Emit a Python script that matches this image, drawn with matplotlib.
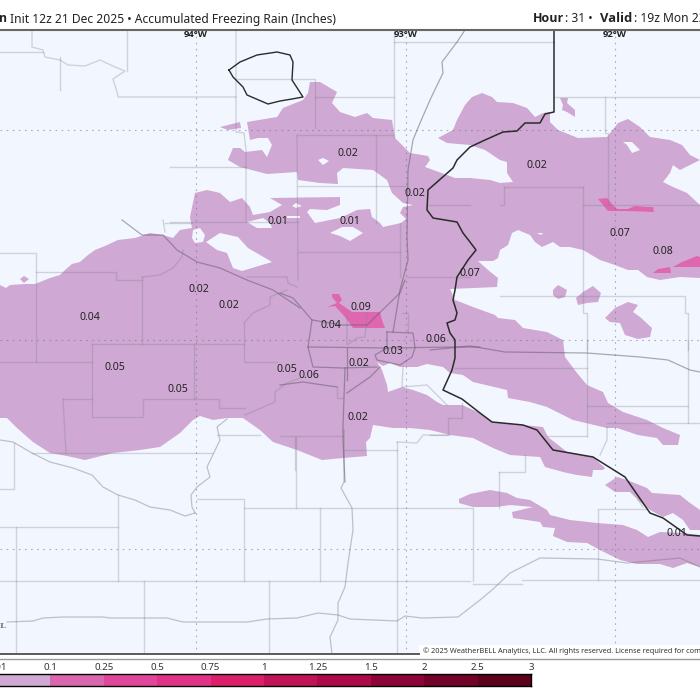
import numpy as np
import matplotlib
matplotlib.use("Agg")
import matplotlib.pyplot as plt

plt.rcParams['font.family'] = ['Noto Sans', 'DejaVu Sans']

# map positions are screen-like x/y, y going down
main_area = [
    (0,285),(6,288),(10,285),(25,284),(35,284),(40,282),(50,278),(60,275),(65,270),(72,264),(80,262),(88,255),
    (95,250),(105,246),(118,240),(135,238),(150,233),(163,235),(173,238),(180,230),(192,228),(190,217),(195,193),
    (207,190),(220,193),(230,202),(242,198),(250,207),(253,215),(270,212),(282,205),(270,198),(340,197),(340,205),
    (327,210),(310,209),(307,212),(315,223),(340,218),(357,210),(370,209),(372,217),(380,223),(383,227),(401,223),
    (406,219),(400,213),(403,207),(413,205),(403,203),(392,193),(387,180),(373,170),(343,168),(337,173),(338,184),
    (320,183),(298,180),(297,172),(267,174),(240,167),(228,160),(233,148),(240,148),(245,152),(262,150),(267,157),
    (272,145),(268,138),(258,138),(250,140),(247,122),(277,117),(283,108),(303,100),(308,93),(310,82),(320,82),
    (337,92),(332,103),(340,112),(355,117),(367,113),(373,118),(392,120),(395,138),(410,153),(428,156),(430,160),
    (425,167),(447,175),(455,178),(470,178),(490,180),(500,183),(513,182),(507,173),(507,162),(500,160),(485,150),
    (470,145),(447,143),(438,138),(453,130),(457,120),(465,105),(472,97),(482,93),(492,97),(497,102),(513,103),
    (527,108),(535,117),(543,113),(550,112),(550,122),(558,130),(578,138),(607,137),(618,123),(628,119),(640,127),
    (650,137),(670,140),(682,145),(690,155),(700,160),(680,170),(673,165),(670,173),(663,182),(673,187),(687,193),
    (700,205),(700,278),(680,277),(660,280),(647,277),(638,270),(628,270),(615,265),(600,260),(583,250),(570,247),
    (560,247),(553,242),(542,247),(535,242),(530,235),(518,230),(512,233),(508,245),(500,250),(498,258),(493,261),
    (478,261),(488,270),(498,278),(497,287),(450,289),(455,300),(473,307),(495,315),(498,318),(515,320),(523,328),
    (547,332),(563,340),(565,357),(577,373),(587,385),(603,392),(608,403),(623,412),(647,420),(663,428),(680,435),
    (678,445),(663,445),(657,438),(638,435),(617,428),(607,428),(573,420),(547,407),(530,402),(508,398),(507,390),
    (473,382),(463,375),(450,373),(443,367),(427,364),(417,367),(400,367),(390,363),(383,366),(377,362),(382,370),
    (387,385),(388,392),(402,387),(413,390),(427,395),(437,402),(443,405),(462,405),(480,413),(493,422),(543,427),
    (548,437),(567,452),(593,457),(605,468),(603,470),(593,470),(592,477),(577,475),(563,472),(545,467),(540,457),
    (510,455),(493,448),(473,438),(450,435),(430,430),(410,428),(393,428),(373,425),(370,438),(366,442),(367,456),
    (343,458),(322,460),(297,450),(273,442),(260,430),(243,418),(227,418),(213,420),(200,416),(193,420),(180,433),
    (160,447),(140,450),(113,453),(85,460),(67,456),(50,453),(33,442),(17,428),(7,418),(0,418),
]
south_band = [
    (459,499),(470,494),(490,490),(507,493),(517,498),(530,500),(547,510),(550,515),(570,520),(597,523),(623,525),
    (637,530),(648,537),(660,532),(683,533),(700,535),(700,567),(687,563),(673,568),(660,564),(637,564),(620,560),
    (600,550),(587,543),(567,542),(553,536),(555,528),(543,527),(540,522),(513,518),(512,512),(533,507),(510,505),
    (497,507),(473,507),(459,503),
]
southeast_band = [
    (605,485),(617,477),(627,480),(647,488),(652,493),(680,495),(690,503),(700,510),(700,530),(690,530),(683,520),
    (673,513),(663,517),(650,510),(638,500),(630,492),(615,492),
]
small_areas = [
    [(553,290),(558,285),(567,290),(565,297),(558,299),(553,295)],
    [(576,298),(583,292),(593,286),(601,293),(598,302),(587,303),(578,305)],
    [(605,318),(615,308),(628,302),(638,305),(633,312),(640,317),(652,328),(650,337),(638,339),(625,335),(620,323),(610,322)],
    [(560,98),(568,98),(567,103),(575,110),(575,117),(567,112),(562,110),(563,105)],
    [(220,127),(240,122),(241,128),(228,130)],
    [(20,279),(24,276),(29,279),(24,283)],
]
holes = [
    [(192,238),(193,230),(200,228),(205,235),(203,242),(195,243)],
    [(206,242),(220,233),(238,237),(248,248),(272,262),(242,271),(233,268),(227,253),(217,250)],
    [(330,233),(342,227),(353,227),(363,233),(350,241),(340,236)],
    [(318,160),(323,158),(329,161),(323,165)],
    [(292,206),(296,203),(302,206),(296,208)],
    [(247,222),(263,218),(270,223),(272,228),(257,228)],
    [(623,142),(632,142),(640,150),(632,153),(627,145)],
    [(537,233),(543,233),(541,235)],
    [(287,216),(300,216),(300,218),(287,218)],
]
heavy_areas = [
    [(332,294),(339,294),(342,300),(339,303),(352,312),(380,312),(382,320),(385,328),(353,328),(345,317),(335,306),(327,307),(337,303),(332,297)],
    [(598,199),(607,198),(613,205),(617,209),(628,209),(635,206),(647,207),(653,207),(654,212),(627,211),(608,211),(603,205)],
    [(653,273),(658,269),(670,267),(671,273)],
    [(673,267),(682,262),(697,256),(700,257),(700,267)],
]

county_lines = [
    [(32,30),(32,47),(43,50),(45,57),(60,60),(68,65),(85,66),(100,60),(115,67),(125,71),(113,79),(117,92),(118,97),(236,97)],
    [(0,52),(43,52)],[(60,57),(60,90)],[(127,30),(127,71)],[(236,30),(236,132),(244,133),(246,150),(246,222)],
    [(236,79),(315,79),(315,128)],[(394,30),(394,137)],[(394,42),(554,42)],[(315,97),(394,97)],
    [(554,97),(700,97)],[(605,97),(605,133),(608,133),(608,205)],
    [(297,135),(376,135),(376,223)],[(376,135),(393,135)],[(297,135),(298,280)],
    [(298,186),(407,186)],[(298,252),(400,252)],[(400,223),(400,277)],[(170,222),(298,222)],
    [(170,167),(246,167)],[(407,277),(470,277)],[(428,205),(470,205)],
    [(0,253),(36,253),(36,362)],[(36,272),(116,272),(116,280),(142,280)],[(142,277),(142,344)],
    [(142,277),(160,275),(173,268),(182,257),(183,250)],[(92,344),(244,344)],[(92,344),(92,417),(143,417),(143,399),(219,399),(219,408),(245,408)],
    [(0,362),(92,362)],[(194,344),(194,399)],[(63,399),(92,399)],[(63,399),(66,453)],
    [(244,323),(244,362),(277,362)],[(245,415),(275,402),(275,392),(287,383),(300,378)],
    [(244,323),(253,313),(270,305),(270,297),(287,290)],[(163,220),(165,232)],[(165,223),(192,223)],
    [(247,277),(287,277),(288,283),(297,287)],
    [(217,435),(260,435)],[(32,453),(212,453)],[(14,443),(14,489),(0,489)],[(118,495),(118,581)],
    [(0,527),(118,527)],[(16,527),(16,654)],[(0,581),(470,581)],[(197,499),(244,499),(244,581)],
    [(244,508),(430,508),(473,508),(473,581)],[(296,437),(296,508)],[(320,508),(320,581)],
    [(397,442),(397,654)],[(144,581),(144,654)],[(269,581),(269,654)],
    [(473,584),(522,584)],[(522,580),(700,580)],[(598,510),(598,580)],[(598,509),(647,509)],
    [(430,435),(448,435),(448,418),(462,418),(462,403)],[(499,472),(499,508)],[(499,472),(525,472),(525,455)],
    [(587,340),(587,436)],[(547,436),(587,436)],[(587,406),(688,406)],[(688,340),(688,423)],[(607,423),(700,423)],
    [(455,368),(587,368)],[(607,427),(607,440),(600,455)],[(638,500),(643,507)],
    [(504,187),(583,187)],[(504,187),(504,205),(500,205)],[(583,187),(583,313),(587,313),(587,350)],[(583,205),(700,205)],
    [(500,296),(685,296),(685,313),(688,313),(688,350)],
    [(280,436),(343,436)],[(295,437),(295,470)],[(345,450),(397,450)],[(397,442),(417,443),(423,435),(450,435)],
    [(403,367),(402,387),(427,385),(447,405)],[(402,313),(408,313),(408,333)],
    [(347,315),(347,345),(357,338),(365,337),(367,313)],[(337,387),(337,398),(343,398)],
]
dark_lines = [
    [(122,220),(142,235),(163,235),(177,250),(197,262),(220,268),(247,280),(273,290),(300,308)],
    [(465,30),(457,42),(442,62),(443,73),(430,100),(420,123),(413,140),(408,170),(407,237),(408,260),(400,290),(393,332)],
    [(280,293),(293,298),(312,320),(343,325),(367,325),(400,293),(405,280)],
    [(312,320),(308,347),(313,367),(343,368),(377,367)],
    [(308,347),(387,348),(455,347),(480,347)],
    [(387,332),(413,333),(415,348),(412,357),(400,365),(377,360),(375,355),(387,348),(387,332)],
    [(345,368),(343,427),(343,440),(345,482)],
    [(347,348),(347,380)],[(347,393),(370,377),(380,367)],[(280,385),(303,382),(323,385),(337,387)],
    [(430,350),(470,346),(505,352),(587,353),(640,357),(668,360),(690,370),(700,372)],
]
light_river_lines = [
    [(0,440),(13,442),(32,453),(50,462),(73,468),(92,475),(103,487),(118,495),(135,500),(150,507),(170,510),(185,516),(195,513)],
    [(227,419),(217,427),(220,440),(207,467),(210,477),(197,487),(191,495),(192,507),(195,513)],
    [(344,430),(344,482),(341,488),(352,508),(353,530),(348,563),(345,587),(338,603),(338,620),(330,637),(332,654)],
    [(7,622),(33,621),(43,618),(63,617),(103,617),(110,618),(167,618),(183,622),(247,622),(267,619),(297,618),(318,613),
     (338,615),(350,619),(397,621),(405,616),(422,618),(458,617),(480,600),(492,590),(510,573),(540,558),(597,559),
     (627,563),(680,558),(700,567)],
]
black_loop = [(229,70),(240,62),(257,55),(277,52),(290,55),(293,62),(292,80),(303,97),(292,99),(280,101),(268,104),
              (247,95),(243,87),(233,77),(229,70)]
black_border = [(554,30),(554,112),(545,114),(540,123),(525,123),(517,131),(503,132),(485,140),(470,147),(457,160),(453,168),
                (428,190),(427,210),(433,218),(457,222),(463,233),(470,242),(476,250),(468,260),(457,277),(455,290),(453,300),
                (457,313),(455,320),(447,323),(450,333),(455,340),(455,358),(452,370),(443,390),(462,399),(480,413),
                (492,422),(523,425),(537,430),(553,450),(593,457),(625,477),(650,513),(663,518),(687,535),(700,536)]

meridians = [196, 406, 615]
meridian_names = ['94°W', '93°W', '92°W']
parallels = [130, 340, 549]

label_text = ['0.02','0.02','0.02','0.01','0.01','0.07','0.08','0.07','0.02','0.02','0.04','0.09','0.04','0.06','0.03',
              '0.02','0.05','0.05','0.05','0.06','0.02','0.01']
label_x = [348,537,415,278,350,620,663,470,199,229,90,361,331,436,393,359,115,178,287,309,358,677]
label_y = [153,166,193,222,222,233,251,274,289,306,318,308,326,339,352,363,368,390,370,375,417,533]

cbar_levels = ['0.01','0.1','0.25','0.5','0.75','1','1.25','1.5','2','2.5','3']
cbar_colors = ['#cfa8d3','#d966ae','#e0479c','#e03388','#dc1f6b','#c01358','#ae0a4a','#8c0438','#720229','#5c011c']

bg = '#f2f6ff'
rain = '#cfa8d3'
heavy = '#df67b0'
bold_font = 'Open Sans'

fig = plt.figure(figsize=(7, 7), dpi=100, facecolor='white')
ax = fig.add_axes([0, 0, 1, 1])
ax.set_xlim(0, 700)
ax.set_ylim(700, 0)
ax.axis('off')

ax.axhspan(29.5, 654.5, color=bg, lw=0, zorder=0)

for poly in [main_area, south_band, southeast_band] + small_areas:
    xs, ys = zip(*poly)
    ax.fill(xs, ys, color=rain, lw=0, zorder=1)
for poly in holes:
    xs, ys = zip(*poly)
    ax.fill(xs, ys, color=bg, lw=0, zorder=1.5)
for poly in heavy_areas:
    xs, ys = zip(*poly)
    ax.fill(xs, ys, color=heavy, lw=0, zorder=2)

for x in meridians:
    ax.plot([x, x], [30, 654], color='#707080', alpha=0.55, lw=0.8, ls=(0, (1.5, 4)), zorder=3)
for y in parallels:
    ax.plot([0, 700], [y, y], color='#707080', alpha=0.55, lw=0.8, ls=(0, (1.5, 4)), zorder=3)

for line in county_lines:
    xs, ys = zip(*line)
    ax.plot(xs, ys, color='#808088', alpha=0.3, lw=1.0, zorder=3)
for line in light_river_lines:
    xs, ys = zip(*line)
    ax.plot(xs, ys, color='#707078', alpha=0.4, lw=0.9, zorder=3)
for line in dark_lines:
    xs, ys = zip(*line)
    ax.plot(xs, ys, color='#605868', alpha=0.5, lw=0.9, zorder=3)

xs, ys = zip(*black_loop)
ax.plot(xs, ys, color='#2b2b2b', lw=1.0, zorder=4)
xs, ys = zip(*black_border)
ax.plot(xs, ys, color='#2b2b2b', lw=1.1, zorder=4)

for x, t in zip(meridians, meridian_names):
    ax.text(x, 34.5, t, ha='center', va='center', fontsize=6.8, fontweight='bold', family=bold_font, color='#222222', zorder=5)

for t, x, y in zip(label_text, label_x, label_y):
    ax.text(x, y, t, ha='center', va='center', fontsize=7.6, color='#222222', zorder=5)

# header
ax.plot([0, 700], [29.5, 29.5], color='#666666', lw=1.5, zorder=6)
ax.text(7.5, 19, 'n', ha='right', va='center', fontsize=8.7, fontweight='bold', family=bold_font, color='#222222')
ax.text(10, 19, 'Init 12z 21 Dec 2025 • Accumulated Freezing Rain (Inches)', ha='left', va='center', fontsize=8.7, color='#222222')
ax.text(533, 19, 'Hour', ha='left', va='center', fontsize=9, fontweight='bold', family=bold_font, color='#222222')
ax.text(565, 19, ': 31 •', ha='left', va='center', fontsize=8.7, color='#222222')
ax.text(600, 19, 'Valid', ha='left', va='center', fontsize=9.4, fontweight='bold', family=bold_font, color='#222222')
ax.text(634, 19, ': 19z Mon 22 Dec 2025', ha='left', va='center', fontsize=8.7, color='#222222')

# footer lines and credit
ax.axhspan(654.5, 658, color='white', lw=0, zorder=5)
ax.axhspan(645, 658, xmin=419/700, color='white', lw=0, zorder=5)
ax.plot([0, 419], [654, 654], color='#5a5a5a', lw=1.4, zorder=6)
ax.plot([0, 700], [658.5, 658.5], color='#9a9a9a', lw=1.0, zorder=6)
ax.text(423, 651.5, '© 2025 WeatherBELL Analytics, LLC. All rights reserved. License required for commercial use.',
        ha='left', va='center', fontsize=5.3, color='#333333', zorder=7)
ax.text(3, 626, 'L', ha='center', va='center', fontsize=6, fontweight='bold', family='DejaVu Serif', color='#777777', zorder=5)

# colour bar: equal steps between levels
cax = fig.add_axes([-3/700, 14/700, 534/700, 12/700])
cax.set_xlim(0, len(cbar_colors))
cax.set_ylim(0, 1)
cax.bar(np.arange(len(cbar_colors)), np.ones(len(cbar_colors)), width=1, align='edge', color=cbar_colors, lw=0)
cax.set_yticks([])
cax.set_xticks(np.arange(len(cbar_levels)))
cax.set_xticklabels(cbar_levels, fontsize=7, color='#333333')
cax.tick_params(axis='x', length=0, top=True, labeltop=True, bottom=False, labelbottom=False, pad=1.5)
for s in cax.spines.values():
    s.set_linewidth(1.0)
    s.set_color('black')

fig.savefig('out.png', dpi=100)
